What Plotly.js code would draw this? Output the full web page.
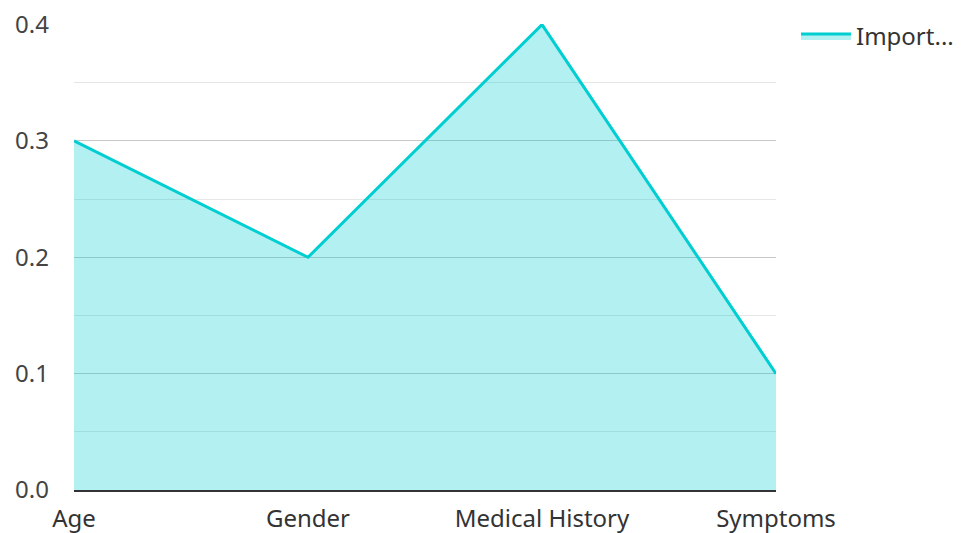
<!DOCTYPE html>
<html>
<head>
<meta charset="utf-8">
<script src="https://cdn.plot.ly/plotly-3.0.1.min.js"></script>
<style>html,body{margin:0;padding:0;background:#fff;}#chart{width:963px;height:533px;}</style>
</head>
<body>
<div id="chart"></div>
<script>
const categories = ["Age", "Gender", "Medical History", "Symptoms"];
const importance = [0.3, 0.2, 0.4, 0.1];
const seriesName = "Import...";

const trace = {
  x: categories,
  y: importance,
  type: "scatter",
  mode: "lines",
  name: seriesName,
  fill: "tozeroy",
  fillcolor: "rgba(0,206,209,0.3)",
  line: {color: "#00CED1", width: 3},
  showlegend: true
};

const layout = {
  width: 963,
  height: 533,
  margin: {l: 74, r: 187, t: 24, b: 43},
  paper_bgcolor: "#fff",
  plot_bgcolor: "#fff",
  font: {family: "Noto Sans, sans-serif", size: 24, color: "#333"},
  showlegend: true,
  legend: {xref: "container", yref: "container", x: 0.8266, xanchor: "left", y: 0.974, yanchor: "top", itemwidth: 50, font: {size: 24, color: "#333"}},
  xaxis: {
    range: [0, 3],
    showgrid: false,
    zeroline: false,
    showline: true,
    linecolor: "#333",
    linewidth: 2,
    ticks: "",
    ticklabelstandoff: 6,
    tickfont: {size: 24, color: "#333"},
    fixedrange: true
  },
  yaxis: {
    range: [0, 0.4005],
    dtick: 0.1,
    tick0: 0,
    tickformat: ".1f",
    showgrid: true,
    gridcolor: "#c8c8c8",
    gridwidth: 1,
    zeroline: false,
    showline: false,
    ticks: "",
    ticklabelstandoff: 24,
    tickfont: {size: 24, color: "#444"},
    minor: {dtick: 0.05, showgrid: true, gridcolor: "#e6e6e6", gridwidth: 1},
    fixedrange: true
  }
};

Plotly.newPlot("chart", [trace], layout, {displayModeBar: false, staticPlot: true});
</script>
</body>
</html>
